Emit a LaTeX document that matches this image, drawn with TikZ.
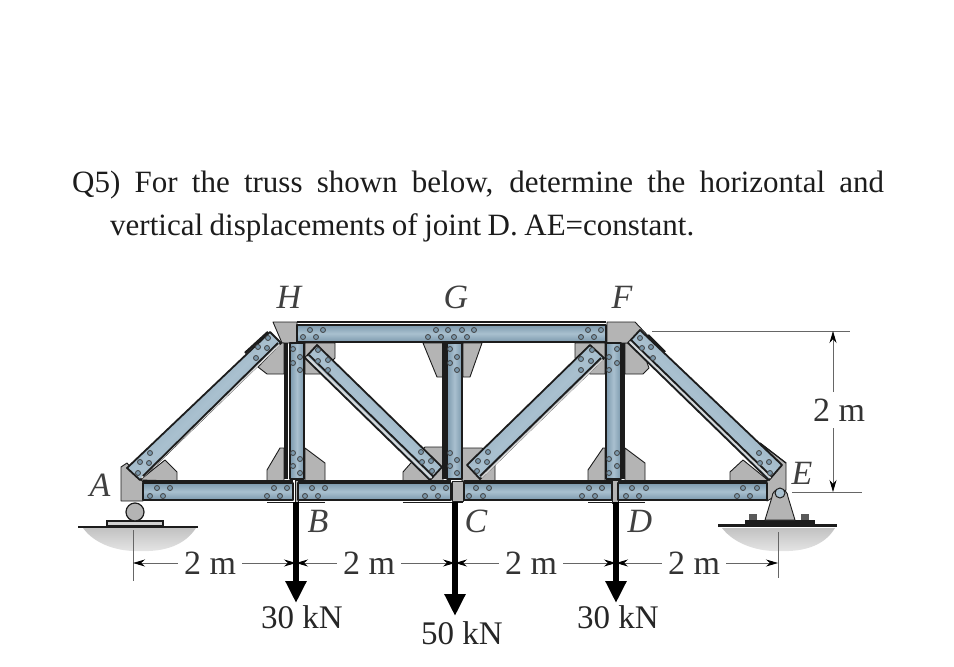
\documentclass[tikz,border=0pt]{standalone}
\usepackage{fontspec}
\setmainfont{Liberation Serif}
\usetikzlibrary{arrows.meta}
\definecolor{steelD}{HTML}{7C99AD}
\definecolor{steelL}{HTML}{A9C0CF}
\definecolor{plateG}{HTML}{B4B4B4}
\definecolor{inkD}{HTML}{1C1C1C}
\tikzstyle{gusset} = [fill=plateG,draw=inkD,line width=0.9pt,line join=round]
\tikzstyle{steel} = [top color=steelD,bottom color=steelD,middle color=steelL,draw=inkD,line width=1.8pt,line join=round]
\tikzstyle{flange} = [draw=inkD,line width=1.8pt]
\tikzstyle{gap} = [draw=black!15,line width=1.6pt]
\tikzstyle{rivet} = [circle,fill=steelD,draw=black!75,line width=0.8pt,inner sep=0pt,minimum size=5pt]
\tikzstyle{heading} = [font=\fontsize{31}{31}\selectfont,inner sep=0pt,anchor=base west,text=inkD]
\tikzstyle{joint} = [font=\fontsize{34}{34}\selectfont\itshape,inner sep=0pt,text=black!75]
\tikzstyle{dimtext} = [font=\fontsize{34}{34}\selectfont,inner sep=6pt,text=black!80]
\tikzstyle{loadtext} = [font=\fontsize{33}{33}\selectfont,inner sep=0pt,text=black!85]
\tikzstyle{dimline} = [draw=black!60,line width=0.8pt]
\tikzstyle{dimarrow} = [dimline,-{Stealth[length=12pt,width=7pt,black]}]
\tikzstyle{load} = [draw=black,line width=5.5pt,-{Triangle[length=22pt,width=20pt]}]
\tikzstyle{ground} = [top color=black!24,bottom color=black!10,draw=none]
\newcommand{\member}[5][0]{ %
  % Four corners of one steel bar, shaded across its width.
  \path[steel,shading angle=#1] #2 -- #3 -- #4 -- #5 -- cycle; %
}
\newcommand{\rivets}[1]{ %
  \foreach \p in {#1} { %
    \node[rivet] at \p {}; %
  } ;
}
\begin{document}
\begin{tikzpicture}[x=1pt,y=-1pt]
  \useasboundingbox (0,0) rectangle (954,667);
  % heading
  \node[heading](line1) at (72,192) {\makebox[812pt][s]{Q5) For the truss shown below, determine the horizontal and}};
  \node[heading](line2) at (110,235) {\makebox[584pt][s]{vertical displacements of joint D. AE=constant.}};
  % ground and supports
  \path[ground] (83,528) .. controls (95,545) and (120,552) .. (140,551) .. controls (165,552) and (185,545) .. (196,528) -- cycle;
  \path[ground] (722,528) .. controls (735,545) and (760,552) .. (780,551) .. controls (805,552) and (825,545) .. (835,528) -- cycle;
  \draw[flange,line width=2.6pt] (78,527) -- (198,527);
  \draw[fill=plateG!60,draw=inkD,line width=1.2pt] (107,526) rectangle (163,521);
  \node[circle,fill=plateG,draw=inkD,line width=1.2pt,minimum size=18pt,inner sep=0pt](roller) at (135,512) {};
  \draw[flange,line width=2.6pt] (718,525.5) -- (837,525.5);
  \fill[inkD] (745,525) rectangle (815,520);
  \foreach \b in {753,805} { %
    \fill[black!65] (\b-4,520) rectangle (\b+4,514);
  } ;
  % gussets
  \draw[gusset] (121,501) -- (121,467) -- (127,463) -- (143,482) -- (143,501) -- cycle;
  \draw[gusset] (140,480) -- (165,460) -- (177,472) -- (177,481) -- cycle;
  \draw[gusset] (267,481) -- (267,470) -- (280,448) -- (284,448) -- (284,481) -- cycle;
  \draw[gusset] (305,448) -- (325,463) -- (325,481) -- (305,481) -- cycle;
  \draw[gusset] (273,322) -- (297,322) -- (297,343) -- (282,343) -- cycle;
  \draw[gusset] (258,367) -- (267,374) -- (284,374) -- (284,343) -- (281,343) -- cycle;
  \draw[gusset] (305,343) -- (335,343) -- (335,358) -- (320,374) -- (305,374) -- cycle;
  \draw[gusset] (423,343) -- (437,377) -- (443,377) -- (443,343) -- cycle;
  \draw[gusset] (463,343) -- (482,343) -- (470,377) -- (463,377) -- cycle;
  \draw[gusset] (403,481) -- (403,472) -- (425,447) -- (443,447) -- (443,481) -- cycle;
  \draw[gusset] (462,448) -- (482,448) -- (495,463) -- (495,481) -- (462,481) -- cycle;
  \draw[gusset] (575,343) -- (575,358) -- (590,374) -- (605,374) -- (605,343) -- cycle;
  \draw[gusset] (625,343) -- (640,343) -- (649,368) -- (643,374) -- (625,374) -- cycle;
  \draw[gusset] (607,322) -- (635,322) -- (652,340) -- (628,343) -- (607,343) -- cycle;
  \draw[gusset] (588,481) -- (588,470) -- (603,448) -- (605,448) -- (605,481) -- cycle;
  \draw[gusset] (625,448) -- (645,463) -- (645,481) -- (625,481) -- cycle;
  \draw[gusset] (730,481) -- (730,472) -- (743,460) -- (769,481) -- cycle;
  \draw[gusset] (760,443) -- (786,463) -- (786,490) -- (767,501) -- (767,481) -- (782,465) -- cycle;
  \draw[gusset] (452,481) rectangle (463,501);
  \draw[gusset] (295,480) rectangle (298,503);
  \draw[gusset] (612,480) rectangle (618,503);
  % bottom and top chords
  \member{(143,483)}{(293,483)}{(293,500)}{(143,500)}
  \member{(298,483)}{(451,483)}{(451,500)}{(298,500)}
  \member{(464,483)}{(612,483)}{(612,500)}{(464,500)}
  \member{(618,483)}{(767,483)}{(767,500)}{(618,500)}
  \member{(297,325)}{(606,325)}{(606,342)}{(297,342)}
  \draw[flange] (297,322) -- (606,322);
  \draw[flange,line width=2.4pt] (143,481) -- (293,481) (298,481) -- (451,481) (464,481) -- (612,481) (618,481) -- (767,481);
  \draw[flange] (267,502.5) -- (325,502.5) (403,502.5) -- (463,502.5) (588,502.5) -- (645,502.5);
  % verticals
  \member[90]{(290,343)}{(304,343)}{(304,479)}{(290,479)}
  \member[90]{(447,343)}{(462,343)}{(462,479)}{(447,479)}
  \member[90]{(606,343)}{(621,343)}{(621,479)}{(606,479)}
  \draw[flange,line width=4pt] (286,343) -- (286,479);
  \draw[flange,line width=4pt] (444,343) -- (444,479);
  \draw[flange,line width=4pt] (623,343) -- (623,479);
  % diagonals
  \member[45]{(127,468)}{(270,332)}{(281,343)}{(140,480)}
  \member[-45]{(317,345)}{(305,358)}{(430,480)}{(442,467)}
  \member[45]{(467,465)}{(590,345)}{(604,358)}{(480,479)}
  \member[-45]{(640,330)}{(628,343)}{(769,480)}{(782,465)}
  \draw[gap] (141.5,478) -- (279.5,344.5);
  \draw[gap] (306.5,356.5) -- (431.5,478);
  \draw[gap] (481.5,477.5) -- (602.5,359.5);
  \draw[gap] (629.5,341.5) -- (770.5,478);
  \draw[flange] (143,476) -- (278,343);
  \draw[flange] (309,355) -- (433,476);
  \draw[flange] (480,476) -- (601,358);
  \draw[flange] (631,340) -- (771,476);
  \draw[flange,line width=2.4pt] (245,353) -- (268,332);
  \draw[flange,line width=2.4pt] (648,335) -- (665,352);
  \draw[flange,line width=1.2pt] (760,443) -- (786,463);
  % pinned support at E
  \draw[gusset] (765,520) -- (772,497) arc (180:360:8) -- (795,520) -- cycle;
  \node[circle,fill=steelL,draw=inkD,line width=1pt,minimum size=10pt,inner sep=0pt](pin) at (780,493) {};
  % rivets
  \rivets{(157,488),(170,488),(150,496),(163,496),(274,488),(287,488),(267,496),(280,496)}
  \rivets{(312,488),(325,488),(305,496),(318,496),(433,488),(446,488),(425,496),(438,496)}
  \rivets{(476,488),(489,488),(469,496),(483,496),(589,488),(602,488),(582,496),(595,496)}
  \rivets{(632,488),(646,488),(626,496),(639,496),(743,488),(757,488),(737,496),(750,496)}
  \rivets{(310,330),(323,330),(303,337),(316,337),(436,330),(448,330),(462,330),(474,330)}
  \rivets{(428,337),(441,337),(454,337),(467,337),(588,330),(601,330),(581,337),(594,337)}
  \rivets{(293,349),(300,357),(293,363),(300,370),(293,453),(300,459),(293,466),(300,473)}
  \rivets{(450,349),(457,357),(450,363),(457,370),(450,453),(457,460),(450,466),(457,473)}
  \rivets{(617,349),(609,357),(617,363),(609,370),(617,453),(609,459),(617,466),(609,473)}
  \rivets{(150,453),(140,462),(149,463),(138,473),(268,338),(258,347),(267,348),(256,358)}
  \rivets{(318,350),(328,360),(318,361),(328,370),(421,452),(431,461),(422,462),(432,471)}
  \rivets{(488,452),(478,461),(487,462),(477,471),(592,350),(581,359),(591,361),(581,370)}
  \rivets{(640,338),(651,347),(642,348),(653,358),(759,453),(769,462),(760,463),(770,473)}
  % joint labels
  \node[joint](labH) at (289,297) {H};
  \node[joint](labG) at (456,297) {G};
  \node[joint](labF) at (622,297) {F};
  \node[joint](labA) at (100,485) {A};
  \node[joint](labB) at (318,521) {B};
  \node[joint](labC) at (476,521) {C};
  \node[joint](labD) at (640,521) {D};
  \node[joint](labE) at (802,473) {E};
  % loads
  \coordinate (loadB) at (296,502);
  \coordinate (loadC) at (455,502);
  \coordinate (loadD) at (616,502);
  \coordinate (tipB) at (296,603);
  \coordinate (tipC) at (455,616);
  \coordinate (tipD) at (616,603);
  \draw[load] (loadB) -- (tipB);
  \draw[load] (loadC) -- (tipC);
  \draw[load] (loadD) -- (tipD);
  \node[loadtext](forceB) at (302,617) {30 kN};
  \node[loadtext](forceC) at (462,633) {50 kN};
  \node[loadtext](forceD) at (618,617) {30 kN};
  % dimensions
  \coordinate (tickA) at (133,563);
  \coordinate (tickB) at (296,563);
  \coordinate (tickC) at (455,563);
  \coordinate (tickD) at (616,563);
  \coordinate (tickE) at (778,563);
  \node[dimtext](dimAB) at (210,563) {2 m};
  \node[dimtext](dimBC) at (369,563) {2 m};
  \node[dimtext](dimCD) at (531,563) {2 m};
  \node[dimtext](dimDE) at (694,563) {2 m};
  \draw[dimline] (133,530) -- (133,581);
  \draw[dimline] (778,532) -- (778,578);
  \draw[dimarrow] (dimAB) -- (tickA);
  \draw[dimarrow] (dimAB) -- (tickB);
  \draw[dimarrow] (dimBC) -- (tickB);
  \draw[dimarrow] (dimBC) -- (tickC);
  \draw[dimarrow] (dimCD) -- (tickC);
  \draw[dimarrow] (dimCD) -- (tickD);
  \draw[dimarrow] (dimDE) -- (tickD);
  \draw[dimarrow] (dimDE) -- (tickE);
  \coordinate (topF) at (833,331);
  \coordinate (botE) at (833,492);
  \draw[dimline] (652,331) -- (850,331);
  \draw[dimline] (792,492) -- (862,492);
  \node[dimtext,inner sep=3pt](dimEF) at (839,410) {2 m};
  \draw[dimarrow] (833,392) -- (topF);
  \draw[dimarrow] (833,428) -- (botE);
\end{tikzpicture}
\end{document}
